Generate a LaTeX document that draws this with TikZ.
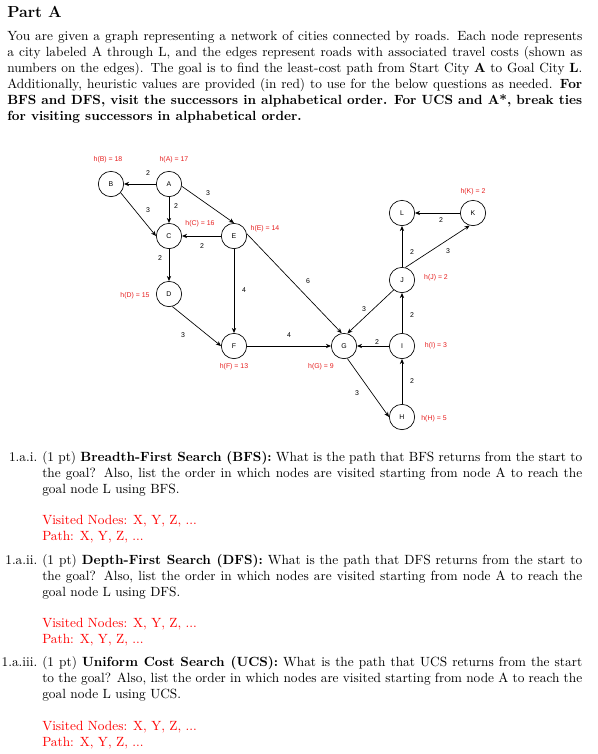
\documentclass[tikz,border=0pt]{standalone}
\usepackage{fontspec}
\usetikzlibrary{arrows.meta}
\newfontfamily\gfont{Liberation Sans}
\definecolor{hred}{RGB}{230,30,30}
\definecolor{qred}{RGB}{255,0,0}
\newcommand{\jl}[2]{\makebox[#1][s]{#2}}
\begin{document}
\begin{tikzpicture}[x=0.75pt,y=-0.75pt,
  txt/.style={inner sep=0pt,anchor=base west,font=\fontsize{10}{12}\selectfont},
  lbl/.style={inner sep=0pt,anchor=base east,font=\fontsize{10}{12}\selectfont},
  rtxt/.style={txt,text=qred},
  vtx/.style={circle,draw,line width=0.5pt,minimum size=19pt,inner sep=0pt,font=\gfont\fontsize{5.2}{6}\selectfont},
  hlab/.style={inner sep=0pt,text=hred,font=\gfont\fontsize{5.2}{6}\selectfont},
  wlab/.style={inner sep=0pt,font=\gfont\fontsize{5.2}{6}\selectfont},
  arr/.style={line width=0.5pt,-{Stealth[length=3.8pt,width=3.2pt]}}]
\path[use as bounding box] (0,0) rectangle (597,754);
% heading and paragraph
\node[txt,font=\fontsize{12}{14}\selectfont\bfseries] (head) at (7,17) {Part A};
\node[txt] (p1) at (7,40.5) {\jl{431.25pt}{You are given a graph representing a network of cities connected by roads. Each node represents}};
\node[txt] (p2) at (7,56.5) {\jl{431.25pt}{a city labeled A through L, and the edges represent roads with associated travel costs (shown as}};
\node[txt] (p3) at (7,72.5) {\jl{431.25pt}{numbers on the edges). The goal is to find the least-cost path from Start City \textbf{A} to Goal City \textbf{L}.}};
\node[txt] (p4) at (7,88.5) {\jl{431.25pt}{Additionally, heuristic values are provided (in red) to use for the below questions as needed. \textbf{For}}};
\node[txt] (p5) at (7,104.5) {\jl{431.25pt}{\bfseries BFS and DFS, visit the successors in alphabetical order. For UCS and A*, break ties}};
\node[txt] (p6) at (7,120.5) {\bfseries for visiting successors in alphabetical order.};
% graph nodes
\node[vtx] (A) at (169,184) {A};
\node[vtx] (B) at (111,184) {B};
\node[vtx] (C) at (169,236) {C};
\node[vtx] (D) at (169,294) {D};
\node[vtx] (E) at (234,236) {E};
\node[vtx] (F) at (234,346) {F};
\node[vtx] (G) at (344,346) {G};
\node[vtx] (H) at (402,417) {H};
\node[vtx] (I) at (402,346) {I};
\node[vtx] (J) at (402,280) {J};
\node[vtx] (L) at (402,213) {L};
\node[vtx] (K) at (473,213) {K};
% heuristics
\node[hlab] (hB) at (108,160) {h(B) = 18};
\node[hlab] (hA) at (174,160) {h(A) = 17};
\node[hlab] (hC) at (200,224) {h(C) = 16};
\node[hlab] (hE) at (265,229) {h(E) = 14};
\node[hlab] (hD) at (135,296) {h(D) = 15};
\node[hlab] (hF) at (234,367) {h(F) = 13};
\node[hlab] (hG) at (321,367) {h(G) = 9};
\node[hlab] (hI) at (436,346) {h(I) = 3};
\node[hlab] (hH) at (434,419) {h(H) = 5};
\node[hlab] (hJ) at (436,278) {h(J) = 2};
\node[hlab] (hK) at (473,192) {h(K) = 2};
% edges
\draw[arr] (A) -- (B);
\draw[arr] (A) -- (C);
\draw[arr] (A.-10) -- (E.north);
\draw[arr] (B.-42) -- (C.west);
\draw[arr] (E) -- (C);
\draw[arr] (C) -- (D);
\draw[arr] (D.-75) -- (F.west);
\draw[arr] (E) -- (F);
\draw[arr] (E.10) -- (G.100);
\draw[arr] (F) -- (G);
\draw[arr] (J.-130) -- (G.75);
\draw[arr] (I) -- (G);
\draw[arr] (G.-75) -- (H.west);
\draw[arr] (H) -- (I);
\draw[arr] (I) -- (J);
\draw[arr] (J) -- (L);
\draw[arr] (J.75) -- (K.-105);
\draw[arr] (K) -- (L);
% weights
\node[wlab] (wAB) at (148,173) {2};
\node[wlab] (wAC) at (176,206) {2};
\node[wlab] (wAE) at (208,193) {3};
\node[wlab] (wBC) at (148,210) {3};
\node[wlab] (wEC) at (202,246) {2};
\node[wlab] (wCD) at (160,258) {2};
\node[wlab] (wEF) at (244,290) {4};
\node[wlab] (wEG) at (308,281) {6};
\node[wlab] (wDF) at (183,335) {3};
\node[wlab] (wFG) at (289,335) {4};
\node[wlab] (wJG) at (364,309) {3};
\node[wlab] (wIG) at (377,342) {2};
\node[wlab] (wGH) at (357,393) {3};
\node[wlab] (wHI) at (412,381) {2};
\node[wlab] (wIJ) at (412,315) {2};
\node[wlab] (wJL) at (412,252) {2};
\node[wlab] (wJK) at (448,251) {3};
\node[wlab] (wKL) at (441,220) {2};
% questions
\node[lbl] (q1) at (37.5,461) {1.a.i.};
\node[txt] (q1a) at (42,461) {\jl{405pt}{(1 pt) \textbf{Breadth-First Search (BFS):} What is the path that BFS returns from the start to}};
\node[txt] (q1b) at (42,477) {\jl{405pt}{the goal? Also, list the order in which nodes are visited starting from node A to reach the}};
\node[txt] (q1c) at (42,493) {goal node L using BFS.};
\node[rtxt] (v1) at (42,524.5) {Visited Nodes: X, Y, Z, ...};
\node[rtxt] (t1) at (42,540.5) {Path: X, Y, Z, ...};
\node[lbl] (q2) at (37.5,564) {1.a.ii.};
\node[txt] (q2a) at (42,564) {\jl{405pt}{(1 pt) \textbf{Depth-First Search (DFS):} What is the path that DFS returns from the start to}};
\node[txt] (q2b) at (42,580) {\jl{405pt}{the goal? Also, list the order in which nodes are visited starting from node A to reach the}};
\node[txt] (q2c) at (42,596) {goal node L using DFS.};
\node[rtxt] (v2) at (42,627.5) {Visited Nodes: X, Y, Z, ...};
\node[rtxt] (t2) at (42,643.5) {Path: X, Y, Z, ...};
\node[lbl] (q3) at (37.5,666.5) {1.a.iii.};
\node[txt] (q3a) at (42,666.5) {\jl{405pt}{(1 pt) \textbf{Uniform Cost Search (UCS):} What is the path that UCS returns from the start}};
\node[txt] (q3b) at (42,682.5) {\jl{405pt}{to the goal? Also, list the order in which nodes are visited starting from node A to reach the}};
\node[txt] (q3c) at (42,698.5) {goal node L using UCS.};
\node[rtxt] (v3) at (42,730.5) {Visited Nodes: X, Y, Z, ...};
\node[rtxt] (t3) at (42,746.5) {Path: X, Y, Z, ...};
\end{tikzpicture}
\end{document}
